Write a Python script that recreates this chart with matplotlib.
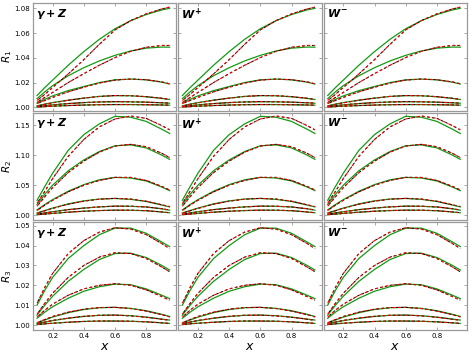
import matplotlib
matplotlib.use('Agg')
import matplotlib.pyplot as plt

plt.rcParams['mathtext.fontset'] = 'custom'
plt.rcParams['mathtext.rm'] = 'DejaVu Sans'
plt.rcParams['mathtext.it'] = 'DejaVu Sans:italic'
plt.rcParams['mathtext.bf'] = 'DejaVu Sans:bold:italic'

# sample points along x (same for every curve)
x_pts = [0.10, 0.15, 0.20, 0.30, 0.40, 0.50, 0.60, 0.70, 0.80, 0.90, 0.95]

panel_labels = [r'$\mathbf{\gamma+Z}$', r'$\mathbf{W^+}$', r'$\mathbf{W^-}$']
row_labels = [r'$R_1$', r'$R_2$', r'$R_3$']

# R1
r1_green = [
    [1.0095, 1.0160, 1.0220, 1.0340, 1.0450, 1.0550, 1.0635, 1.0700, 1.0750, 1.0787, 1.0800],
    [1.0070, 1.0125, 1.0175, 1.0255, 1.0320, 1.0375, 1.0420, 1.0455, 1.0478, 1.0487, 1.0486],
    [1.0035, 1.0065, 1.0092, 1.0135, 1.0168, 1.0200, 1.0222, 1.0228, 1.0222, 1.0203, 1.0188],
    [1.0012, 1.0026, 1.0038, 1.0058, 1.0074, 1.0088, 1.0094, 1.0093, 1.0085, 1.0072, 1.0063],
    [1.0006, 1.0013, 1.0020, 1.0030, 1.0038, 1.0043, 1.0045, 1.0044, 1.0041, 1.0036, 1.0033],
    [1.0002, 1.0006, 1.0009, 1.0014, 1.0018, 1.0021, 1.0022, 1.0022, 1.0020, 1.0018, 1.0017],
]
r1_red = [
    [1.0055, 1.0105, 1.0160, 1.0270, 1.0385, 1.0510, 1.0625, 1.0700, 1.0755, 1.0795, 1.0810],
    [1.0040, 1.0080, 1.0120, 1.0200, 1.0272, 1.0340, 1.0402, 1.0452, 1.0485, 1.0500, 1.0500],
    [1.0030, 1.0055, 1.0080, 1.0125, 1.0162, 1.0196, 1.0220, 1.0228, 1.0223, 1.0205, 1.0190],
    [1.0010, 1.0024, 1.0036, 1.0057, 1.0074, 1.0088, 1.0095, 1.0094, 1.0086, 1.0073, 1.0064],
    [1.0005, 1.0012, 1.0019, 1.0030, 1.0038, 1.0043, 1.0046, 1.0045, 1.0042, 1.0037, 1.0034],
    [1.0002, 1.0005, 1.0009, 1.0014, 1.0018, 1.0021, 1.0022, 1.0022, 1.0021, 1.0019, 1.0017],
]

# R2
r2_green = [
    [1.025, 1.048, 1.070, 1.108, 1.134, 1.152, 1.1645, 1.163, 1.156, 1.143, 1.136],
    [1.018, 1.035, 1.050, 1.074, 1.092, 1.106, 1.1155, 1.117, 1.112, 1.100, 1.093],
    [1.009, 1.018, 1.026, 1.040, 1.051, 1.059, 1.063, 1.062, 1.057, 1.047, 1.041],
    [1.004, 1.008, 1.012, 1.019, 1.024, 1.027, 1.028, 1.0265, 1.023, 1.017, 1.014],
    [1.002, 1.004, 1.006, 1.0095, 1.012, 1.014, 1.0152, 1.015, 1.0138, 1.0108, 1.0085],
    [1.001, 1.002, 1.0032, 1.0052, 1.0068, 1.0079, 1.0085, 1.0084, 1.0076, 1.0055, 1.0042],
]
r2_red = [
    [1.020, 1.040, 1.061, 1.098, 1.126, 1.147, 1.160, 1.165, 1.161, 1.149, 1.142],
    [1.015, 1.031, 1.046, 1.071, 1.090, 1.105, 1.115, 1.118, 1.114, 1.103, 1.096],
    [1.008, 1.017, 1.025, 1.039, 1.050, 1.058, 1.063, 1.063, 1.058, 1.048, 1.042],
    [1.0035, 1.0075, 1.0115, 1.0185, 1.0235, 1.0268, 1.0282, 1.027, 1.0235, 1.0175, 1.0145],
    [1.0018, 1.0038, 1.0058, 1.0093, 1.0120, 1.0140, 1.0153, 1.0151, 1.0139, 1.0110, 1.0087],
    [1.001, 1.002, 1.0032, 1.0052, 1.0068, 1.0079, 1.0086, 1.0085, 1.0077, 1.0056, 1.0043],
]

# R3
r3_green = [
    [1.0100, 1.0175, 1.0240, 1.0335, 1.0400, 1.0455, 1.0488, 1.0488, 1.0462, 1.0418, 1.0395],
    [1.0050, 1.0100, 1.0145, 1.0220, 1.0280, 1.0330, 1.0360, 1.0362, 1.0340, 1.0300, 1.0277],
    [1.0034, 1.0065, 1.0092, 1.0135, 1.0170, 1.0193, 1.0206, 1.0203, 1.0182, 1.0150, 1.0133],
    [1.0010, 1.0025, 1.0040, 1.0062, 1.0078, 1.0087, 1.0089, 1.0084, 1.0072, 1.0054, 1.0043],
    [1.0006, 1.0014, 1.0022, 1.0034, 1.0043, 1.0049, 1.0050, 1.0047, 1.0040, 1.0030, 1.0025],
    [1.0002, 1.0006, 1.0009, 1.0014, 1.0018, 1.0020, 1.0020, 1.0019, 1.0016, 1.0011, 1.0008],
]
r3_red = [
    [1.0110, 1.0190, 1.0260, 1.0360, 1.0425, 1.0468, 1.0490, 1.0483, 1.0455, 1.0410, 1.0385],
    [1.0055, 1.0110, 1.0160, 1.0240, 1.0300, 1.0342, 1.0364, 1.0360, 1.0335, 1.0292, 1.0268],
    [1.0040, 1.0075, 1.0105, 1.0150, 1.0182, 1.0200, 1.0208, 1.0200, 1.0177, 1.0143, 1.0125],
    [1.0012, 1.0028, 1.0043, 1.0065, 1.0080, 1.0088, 1.0089, 1.0083, 1.0070, 1.0052, 1.0041],
    [1.0007, 1.0015, 1.0023, 1.0035, 1.0044, 1.0049, 1.0050, 1.0046, 1.0039, 1.0029, 1.0024],
    [1.0002, 1.0006, 1.0009, 1.0014, 1.0018, 1.0020, 1.0020, 1.0019, 1.0016, 1.0011, 1.0008],
]

greens = [r1_green, r2_green, r3_green]
reds = [r1_red, r2_red, r3_red]
ylims = [(0.9973, 1.0843), (0.9917, 1.1705), (0.9975, 1.0517)]
yticks = [[1.00, 1.02, 1.04, 1.06, 1.08],
          [1.00, 1.05, 1.10, 1.15],
          [1.00, 1.01, 1.02, 1.03, 1.04, 1.05]]
xticks = [0.2, 0.4, 0.6, 0.8]

spine_col = '#999999'

fig, axes = plt.subplots(3, 3, figsize=(4.74, 3.53), dpi=100, sharex=True, sharey='row')
fig.subplots_adjust(left=0.0696, right=0.9852, top=0.9915, bottom=0.0652,
                    wspace=0.014, hspace=0.019)

for i in range(3):
    for j in range(3):
        ax = axes[i, j]
        for g, r in zip(greens[i], reds[i]):
            ax.plot(x_pts, g, color='#139a13', lw=0.9, zorder=2)
            ax.plot(x_pts, r, color='k', lw=0.7, ls=(2.5, (2.5, 2.5)), zorder=3)
            ax.plot(x_pts, r, color='red', lw=0.8, ls=(0, (2.5, 2.5)), zorder=4)
        ax.set_xlim(0.074, 0.993)
        ax.set_ylim(*ylims[i])
        ax.set_yticks(yticks[i])
        ax.set_xticks(xticks)
        ax.tick_params(direction='in', top=True, right=True, color=spine_col,
                       labelsize=5, length=2.5, width=0.6, pad=2)
        for s in ax.spines.values():
            s.set_color(spine_col)
            s.set_linewidth(0.9)
        ax.text(0.02, 0.965, panel_labels[j], transform=ax.transAxes,
                ha='left', va='top', fontsize=8)
        if j == 0:
            ax.set_ylabel(row_labels[i], fontsize=7.5)
            ax.yaxis.set_label_coords(-0.13, 0.5)
        if i == 2:
            ax.set_xlabel(r'$x$', fontsize=9, labelpad=1)

fig.savefig('out.png', dpi=100)
